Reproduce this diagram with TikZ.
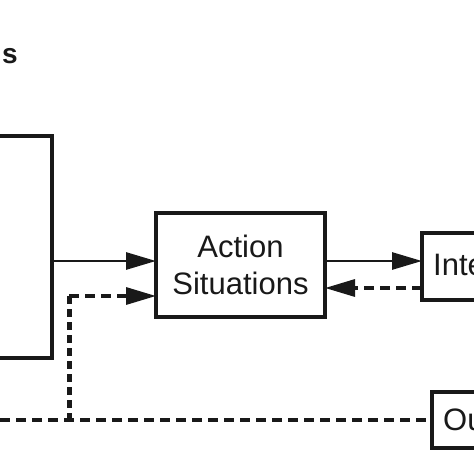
\documentclass[tikz,border=0pt]{standalone}
\usepackage{fontspec}
\setmainfont{Liberation Sans}
\usetikzlibrary{arrows.meta}
\begin{document}
\begin{tikzpicture}[x=1pt,y=-1pt,
  box/.style={draw=black!90, line width=3.8pt, inner sep=0pt, outer sep=0pt},
  lbl/.style={font=\fontsize{31}{37}\selectfont, text=black!90},
  tip/.style={-{Triangle[length=30pt,width=17pt]}},
  arr/.style={draw=black!90, line width=2.8pt, tip},
  darr/.style={draw=black!90, line width=3.2pt, dash pattern=on 10pt off 6pt, tip},
  dline/.style={draw=black!90, line width=3.2pt, dash pattern=on 10pt off 6pt},
  vdline/.style={draw=black!90, line width=5pt, dash pattern=on 8pt off 5pt}]
\useasboundingbox (0,0) rectangle (474,474);
\clip (0,0) rectangle (474,474);
\fill[white] (0,0) rectangle (474,474);
% title fragment
\node[font=\bfseries\fontsize{28}{32}\selectfont, anchor=base west, inner sep=0pt, text=black!90] (title) at (2,63) {s};
% left big box
\node[box, minimum width=112pt, minimum height=222pt, anchor=north east] (ext) at (52,136) {};
% action situations
\node[box, minimum width=169pt, minimum height=104pt, anchor=north west, align=center, lbl] (as) at (156,213) {Action\\[0pt]Situations};
% interactions
\node[box, minimum width=120pt, minimum height=67pt, anchor=north west] (int) at (422,233) {};
\node[lbl, anchor=base west, inner sep=0pt] (intt) at (433,275) {Interactions};
% outcomes
\node[box, minimum width=120pt, minimum height=56pt, anchor=north west] (out) at (432,392) {};
\node[lbl, anchor=base west, inner sep=0pt] (outt) at (443,430) {Outcomes};
% coordinates
\coordinate (e1) at (52,261);
\coordinate (d1) at (69,296);
\coordinate (d2) at (69,420);
\coordinate (d0) at (0,420);
\coordinate (b1) at (0,288);
% arrows
\draw[arr] (ext.east |- e1) -- (as.west |- e1);
\draw[darr] (d1) -- (as.west |- d1);
\draw[vdline] (d1) -- (d2);
\draw[dline] (d0) -- (out.west |- d0);
\draw[arr] (as.east |- e1) -- (int.west |- e1);
\draw[darr] (int.west |- b1) -- (as.east |- b1);
\end{tikzpicture}
\end{document}
